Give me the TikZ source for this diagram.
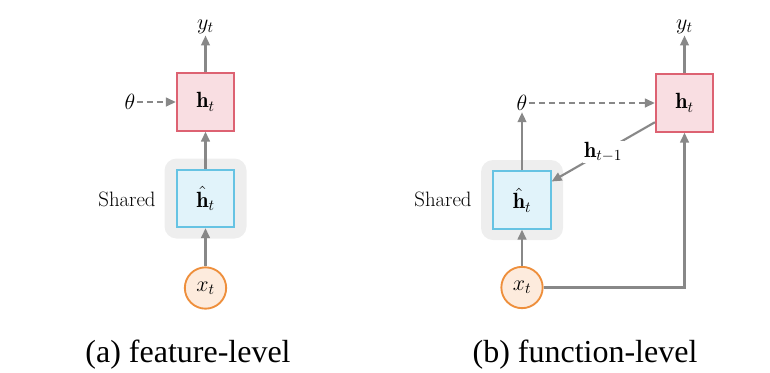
\RequirePackage{fix-cm}
\documentclass[tikz,border=0pt]{standalone}
\usepackage{fontspec}
\newfontfamily\capfont{Liberation Serif}
\usetikzlibrary{arrows.meta,calc}
\definecolor{redF}{HTML}{F9DEE2}
\definecolor{redB}{HTML}{DD6272}
\definecolor{bluF}{HTML}{E1F3FA}
\definecolor{bluB}{HTML}{66C3E3}
\definecolor{oraF}{HTML}{FDEBDD}
\definecolor{oraB}{HTML}{EE8F3C}
\definecolor{bgG}{HTML}{EEEEEE}
\definecolor{arG}{HTML}{888888}
\begin{document}
\begin{tikzpicture}[x=0.75pt,y=-0.75pt,
  font=\fontsize{16.5}{19}\selectfont,
  hbox/.style={draw=redB, fill=redF, line width=1.4pt, minimum size=43pt, inner sep=0pt},
  hhatbox/.style={draw=bluB, fill=bluF, line width=1.4pt, minimum size=43pt, inner sep=0pt},
  xcirc/.style={circle, draw=oraB, fill=oraF, line width=1.4pt, minimum size=31pt, inner sep=0pt},
  sharedbg/.style={fill=bgG, rounded corners=9pt},
  lbl/.style={inner sep=1pt},
  sharedlbl/.style={inner sep=1pt, font=\fontsize{15.6}{18}\selectfont},
  arr/.style={draw=arG, line width=1.6pt, -{Triangle[length=7.5pt,width=6.5pt]}},
  darr/.style={arr, dash pattern=on 4.5pt off 3pt},
  captext/.style={font=\capfont\fontsize{24}{28}\selectfont}
]
\useasboundingbox (0,0) rectangle (770,372);
% ---------- panel (a)
\coordinate (ca) at (205.5,198.5);
\fill[sharedbg] ($(ca)+(-41,-40)$) rectangle ($(ca)+(41,40)$);
\node[hhatbox] (hha) at (ca) {$\hat{\mathbf{h}}_t$};
\node[hbox] (ha) at (205.5,102) {$\mathbf{h}_t$};
\node[xcirc] (xa) at (205.5,288) {$x_t$};
\node[lbl] (ya) at (205.5,27) {$y_t$};
\node[lbl] (tha) at (130,102) {$\theta$};
\node[sharedlbl] (sha) at (127,199) {Shared};
\draw[arr] (xa.north) -- (hha.south);
\draw[arr] (hha.north) -- (ha.south);
\draw[arr] (ha.north) -- (ya.south);
\draw[darr] (tha.east) -- (ha.west);
% ---------- panel (b)
\coordinate (cb) at (522,200);
\fill[sharedbg] ($(cb)+(-41,-40)$) rectangle ($(cb)+(41,40)$);
\node[hhatbox] (hhb) at (cb) {$\hat{\mathbf{h}}_t$};
\node[hbox] (hb) at (684.5,103) {$\mathbf{h}_t$};
\node[xcirc] (xb) at (522,287.5) {$x_t$};
\node[lbl] (yb) at (684.5,27) {$y_t$};
\node[lbl] (thb) at (522,103) {$\theta$};
\node[sharedlbl] (shb) at (443,199) {Shared};
\draw[arr] (xb.north) -- (hhb.south);
\draw[arr] (hhb.north) -- (thb.south);
\draw[darr] (thb.east) -- (hb.west);
\draw[arr] (hb.north) -- (yb.south);
\draw[arr] (hb.213) -- node[fill=white, inner sep=1pt] {$\mathbf{h}_{t-1}$} (hhb.32);
\draw[arr] (xb.east) -| (hb.south);
% ---------- captions
\node[captext] (capa) at (188,355) {(a) feature-level};
\node[captext] (capb) at (585,355) {(b) function-level};
\end{tikzpicture}
\end{document}
